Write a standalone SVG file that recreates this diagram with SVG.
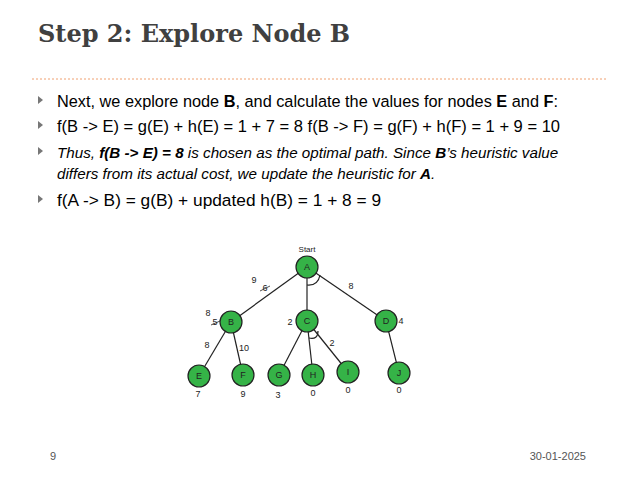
<svg xmlns="http://www.w3.org/2000/svg" width="638" height="478" viewBox="0 0 638 478">
<style>
.t{font-family:"Liberation Sans",Arial,sans-serif;font-size:16.3px;fill:#000}
.n{font-family:"Liberation Sans",Arial,sans-serif;font-size:9px;fill:#222;text-anchor:middle}
.nd{fill:#35b347;stroke:#222;stroke-width:1.2}
.e{stroke:#222;stroke-width:1.2;fill:none}
.bul{fill:#777}
</style>
<rect width="638" height="478" fill="#fff"/>
<text x="38" y="42" font-family="'DejaVu Serif',serif" font-weight="bold" font-size="24" fill="#404040">Step 2: Explore Node B</text>
<line x1="32" y1="79" x2="606" y2="79" stroke="#f0a070" stroke-width="1" stroke-dasharray="2,2"/>
<g id="bullets">
<path class="bul" d="M38,96 l5,4 l-5,4z"/><path class="bul" d="M38,121 l5,4 l-5,4z"/><path class="bul" d="M38,147 l5,4 l-5,4z"/><path class="bul" d="M38,195 l5,4 l-5,4z"/>
<text class="t" x="57" y="107" textLength="501" lengthAdjust="spacingAndGlyphs">Next, we explore node <tspan font-weight="bold">B</tspan>, and calculate the values for nodes <tspan font-weight="bold">E</tspan> and <tspan font-weight="bold">F</tspan>:</text>
<text class="t" x="57" y="132" textLength="503" lengthAdjust="spacingAndGlyphs">f(B -&gt; E) = g(E) + h(E) = 1 + 7 = 8 f(B -&gt; F) = g(F) + h(F) = 1 + 9 = 10</text>
<text class="t" x="57" y="158" style="font-style:italic;font-size:15.2px">Thus, <tspan font-weight="bold">f(B -&gt; E) = 8</tspan> is chosen as the optimal path. Since <tspan font-weight="bold">B</tspan>’s heuristic value</text>
<text class="t" x="57" y="179" style="font-style:italic;font-size:15.2px">differs from its actual cost, we update the heuristic for <tspan font-weight="bold">A</tspan>.</text>
<text class="t" x="57" y="206" textLength="324" lengthAdjust="spacingAndGlyphs">f(A -&gt; B) = g(B) + updated h(B) = 1 + 8 = 9</text>
</g>
<g id="connectors">
<line class="e" x1="307" y1="267" x2="231" y2="322"/>
<line class="e" x1="307" y1="267" x2="307" y2="321"/>
<line class="e" x1="307" y1="267" x2="386" y2="321"/>
<line class="e" x1="231" y1="322" x2="199" y2="376"/>
<line class="e" x1="231" y1="322" x2="243" y2="375"/>
<line class="e" x1="307" y1="321" x2="279" y2="375"/>
<line class="e" x1="307" y1="321" x2="313" y2="375"/>
<line class="e" x1="307" y1="321" x2="348" y2="372"/>
<line class="e" x1="386" y1="321" x2="399" y2="373"/>
<path class="e" d="M307,285 Q318,286 320,275"/>
<path class="e" d="M309,338 Q318,340 318,331"/>
</g>
<g id="A"><circle class="nd" cx="307" cy="267" r="11"/><text class="n" x="307" y="270">A</text></g>
<g id="B"><circle class="nd" cx="231" cy="322" r="11"/><text class="n" x="231" y="325">B</text></g>
<g id="C"><circle class="nd" cx="307" cy="321" r="11"/><text class="n" x="307" y="324">C</text></g>
<g id="D"><circle class="nd" cx="386" cy="321" r="11"/><text class="n" x="386" y="324">D</text></g>
<g id="E"><circle class="nd" cx="199" cy="376" r="11"/><text class="n" x="199" y="379">E</text></g>
<g id="F"><circle class="nd" cx="243" cy="375" r="11"/><text class="n" x="243" y="378">F</text></g>
<g id="G"><circle class="nd" cx="279" cy="375" r="11"/><text class="n" x="279" y="378">G</text></g>
<g id="H"><circle class="nd" cx="313" cy="375" r="11"/><text class="n" x="313" y="378">H</text></g>
<g id="I"><circle class="nd" cx="348" cy="372" r="11"/><text class="n" x="348" y="375">I</text></g>
<g id="J"><circle class="nd" cx="399" cy="373" r="11"/><text class="n" x="399" y="376">J</text></g>
<g id="labels">
<text class="n" x="307" y="252" style="font-size:8px">Start</text>
<text class="n" x="254" y="283">9</text>
<text class="n" x="265" y="291">6</text><line x1="260" y1="291" x2="270" y2="286" stroke="#222" stroke-width="0.8"/>
<text class="n" x="351" y="289">8</text>
<text class="n" x="208" y="316">8</text>
<text class="n" x="215" y="325">5</text><line x1="211" y1="325" x2="220" y2="321" stroke="#222" stroke-width="0.8"/>
<text class="n" x="290" y="325">2</text>
<text class="n" x="401" y="324">4</text>
<text class="n" x="207" y="348">8</text>
<text class="n" x="244" y="351">10</text>
<text class="n" x="332" y="346">2</text>
<text class="n" x="198" y="397">7</text>
<text class="n" x="243" y="397">9</text>
<text class="n" x="278" y="398">3</text>
<text class="n" x="313" y="396">0</text>
<text class="n" x="348" y="393">0</text>
<text class="n" x="399" y="393">0</text>
</g>
<text x="50" y="460" font-family="'Liberation Sans',sans-serif" font-size="11" fill="#555">9</text>
<text x="586" y="460" text-anchor="end" font-family="'Liberation Sans',sans-serif" font-size="11" fill="#555">30-01-2025</text>
</svg>
